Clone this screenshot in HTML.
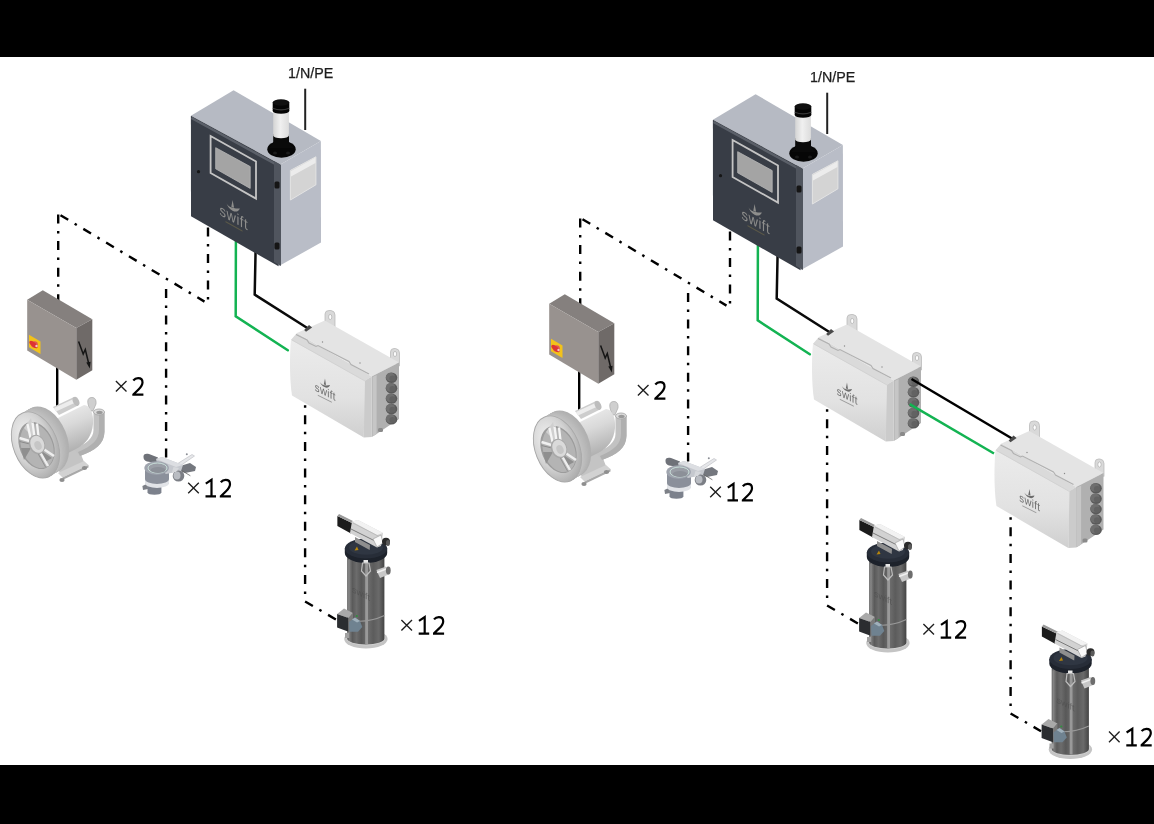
<!DOCTYPE html>
<html><head><meta charset="utf-8">
<style>
html,body{margin:0;padding:0;background:#fff;}
body{width:1154px;height:824px;overflow:hidden;position:relative;}
.bar{position:absolute;left:0;width:1154px;background:#000;}
svg{position:absolute;left:0;top:0;}
text{font-family:"Liberation Sans",sans-serif;}
</style></head>
<body>
<svg style="will-change:transform" width="1154" height="824" viewBox="0 0 1154 824">
<defs>
  <g id="gx"><path d="M0.7,3.7 L11.3,14.3 M11.3,3.7 L0.7,14.3" stroke="#1e1e1e" stroke-width="1.35" fill="none"/></g>
  <g id="g1"><path d="M0.6,4.6 L6.3,0.9 L6.3,17.3 M0.3,17.4 L10.8,17.4" stroke="#000" stroke-width="2.2" fill="none" stroke-linejoin="miter"/></g>
  <g id="g2"><path d="M1.1,3.2 C2.4,1.6 4,0.9 5.9,0.9 C8.7,0.9 10.3,2.6 10.3,5.2 C10.3,7.6 9,9.5 6.3,12.2 L1.2,17.1 L1.2,17.4 L11.2,17.4" stroke="#000" stroke-width="2.2" fill="none"/></g>
  <g id="lbl2"><use href="#gx"/><use href="#g2" x="17"/></g>
  <g id="lbl12"><use href="#gx"/><use href="#g1" x="17.7"/><use href="#g2" x="32.2"/></g>
  <linearGradient id="hopBody" x1="0" x2="1" y1="0" y2="0">
    <stop offset="0" stop-color="#555"/>
    <stop offset="0.06" stop-color="#7a7a7a"/>
    <stop offset="0.14" stop-color="#5a5a5a"/>
    <stop offset="0.25" stop-color="#6c6c6c"/>
    <stop offset="0.38" stop-color="#585858"/>
    <stop offset="0.55" stop-color="#6e6e6e"/>
    <stop offset="0.7" stop-color="#5c5c5c"/>
    <stop offset="0.85" stop-color="#6a6a6a"/>
    <stop offset="1" stop-color="#444"/>
  </linearGradient>
  <linearGradient id="ioFront" x1="0" x2="0" y1="0" y2="1">
    <stop offset="0" stop-color="#ececec"/>
    <stop offset="0.6" stop-color="#e2e2e2"/>
    <stop offset="1" stop-color="#cfcfcf"/>
  </linearGradient>
  <radialGradient id="blowRim" cx="0.4" cy="0.35" r="0.7">
    <stop offset="0" stop-color="#f4f4f4"/>
    <stop offset="0.6" stop-color="#d2d2d2"/>
    <stop offset="1" stop-color="#a8a8a8"/>
  </radialGradient>
  <linearGradient id="blowBody" x1="0" x2="1" y1="0" y2="0.4">
    <stop offset="0" stop-color="#9c9c9c"/>
    <stop offset="0.35" stop-color="#f0f0f0"/>
    <stop offset="1" stop-color="#bdbdbd"/>
  </linearGradient>

  <!-- control cabinet -->
  <g id="cabinet">
    <polygon points="233.6,90.2 190.9,115.7 280.4,164.4 320.9,141.1" fill="#b6bac3"/>
    <polygon points="280.4,164.4 320.9,141.1 321,242.6 278.5,266.3" fill="#b9bdc7"/>
    <polygon points="190.9,115.7 280.4,164.4 278.5,266.3 191,216.2" fill="#383d46"/>
    <polyline points="191.5,118 280,166.5" stroke="#5b6069" stroke-width="2.5" fill="none"/>
    <polygon points="274,161 281,165 281,266 274,262" fill="#50555e"/>
    <!-- screen -->
    <polygon points="210.6,136 256,161.5 256,198.6 210.6,173" fill="none" stroke="#c4c4c4" stroke-width="1.8"/>
    <polygon points="215.7,147.7 250.2,166.6 250.2,188.4 215.7,168.8" fill="#a4a4a4" stroke="#b8b8b8" stroke-width="0.8"/>
    <!-- side window -->
    <polygon points="290.4,170.4 315.9,156.8 315.9,184.8 290.4,200" fill="#d4d4d4" stroke="#e4e4e4" stroke-width="1"/>
    <polygon points="291,171 315.5,157.5 315.5,163 291,176.5" fill="#ececec"/>
    <!-- hinges -->
    <rect x="274.5" y="181.5" width="5" height="7" rx="1.5" fill="#151515"/>
    <rect x="274.5" y="242.5" width="5" height="7" rx="1.5" fill="#151515"/>
    <circle cx="198.5" cy="171.7" r="1.6" fill="#151515"/>
    <!-- logo -->
    <g transform="translate(219.5,214.8) matrix(1,0.55,0,1,0,0)" fill="#8e8e8c">
      <text x="0" y="0" font-size="15.5" letter-spacing="0.6" transform="scale(0.84,1)">swift</text>
      <path d="M6.8,-15.5 C8.5,-13 12.5,-12.8 20.4,-17.5 C19.2,-13.5 16,-11.3 13,-11.3 C10,-11.3 8,-12.8 6.8,-15.5 Z M11.8,-14.5 L13.1,-22 L14.6,-15 Z" fill="#8e8e8c"/>
      <rect x="6" y="3" width="17" height="1.2" fill="#5a5848"/>
    </g>
    <!-- beacon -->
    <linearGradient id="bcnW" x1="0" x2="1" y1="0" y2="0"><stop offset="0" stop-color="#d4d4d4"/><stop offset="0.45" stop-color="#f0f0f0"/><stop offset="1" stop-color="#dcdcdc"/></linearGradient>
    <ellipse cx="281.5" cy="149.3" rx="14.2" ry="8.5" fill="#060606"/>
    <path d="M273.2,134 L289,134 L289,142 Q290.5,145.5 294,148 L269,148 Q272.5,145.5 273.2,142 Z" fill="#0a0a0a"/>
    <rect x="273.2" y="112" width="15.7" height="23.5" fill="url(#bcnW)"/>
    <ellipse cx="281.05" cy="135.5" rx="7.85" ry="2.8" fill="url(#bcnW)"/>
    <rect x="272.7" y="102.5" width="16.6" height="8.5" fill="#050505"/>
    <ellipse cx="281" cy="111" rx="8.3" ry="2.7" fill="#050505"/>
    <ellipse cx="281" cy="102.5" rx="8.3" ry="3.3" fill="#101010"/>
    <path d="M272.8,108.2 Q281,111.5 289.2,108.2" stroke="#3a3a3a" stroke-width="1.1" fill="none"/>
    <ellipse cx="275" cy="153" rx="2" ry="1.5" fill="#1a1a1a"/>
    <ellipse cx="288" cy="153" rx="2" ry="1.5" fill="#1a1a1a"/>
  </g>

  <!-- switch box -->
  <g id="switchbox">
    <polygon points="42.8,290.2 27.2,299.7 76.3,328 92.3,319.3" fill="#85807e"/>
    <polygon points="27.2,299.7 76.3,328 76.3,379.8 27.2,350.6" fill="#98928f"/>
    <polygon points="76.3,328 92.3,319.3 92.3,370.3 76.3,379.8" fill="#6f6a68"/>
    <polygon points="29,334.8 40.5,341.5 40.5,354 29,347.3" fill="#f2c21a"/>
    <circle cx="34.5" cy="344.5" r="3.3" fill="#e25555"/><ellipse cx="33.5" cy="344.5" rx="5" ry="2.2" transform="rotate(40 33.5 344.5)" fill="#dd3333"/>
    <circle cx="36.5" cy="346" r="1.2" fill="#f2c8c8"/>
    <path d="M78.6,341.5 L83.2,354 L85.3,349.5 L88.8,364" stroke="#151515" stroke-width="1.5" fill="none"/><path d="M86.3,362.5 L89.8,368.5 L90.6,361.8 Z" fill="#151515"/>
  </g>

  <!-- blower -->
  <g id="blower">
    <!-- base plate -->
    <polygon points="55,458 78,447 84,462 60,474" fill="#c4c4c4"/>
    <polygon points="58,473 84,461 88.5,465 62.5,477.5" fill="#d2d2d2"/>
    <polygon points="62.5,477.5 88.5,465 88.5,467.5 62.5,480" fill="#a9a9a9"/>
    <ellipse cx="62" cy="480" rx="2.6" ry="2" fill="#8f8f8f"/>
    <ellipse cx="84.5" cy="468" rx="2.6" ry="2" fill="#8f8f8f"/>
    <!-- outlet elbow -->
    <path d="M93.5,412 L104.5,412 L104.5,432 C104,444 96,450 80,456 L74,449 C86,444 93.5,438 93.5,430 Z" fill="#c2c2c2"/>
    <path d="M99,412 L104.5,412 L104.5,432 C104,444 96,450 80,456 L78,452 C92,446 99,440 99,430 Z" fill="#b0b0b0"/>
    <ellipse cx="99" cy="412" rx="5.5" ry="3" fill="#dcdcdc" stroke="#a5a5a5" stroke-width="0.8"/>
    <ellipse cx="99.5" cy="412.5" rx="3.2" ry="1.7" fill="#9a9a9a"/>
    <path d="M88,404 C87,399 89,397.5 92,397.5 C95,397.5 96.5,400 96,404 L93,411 L90,411 Z" fill="#cfcfcf" stroke="#a0a0a0" stroke-width="0.6"/>
    <!-- body cylinder -->
    <linearGradient id="blowBody2" x1="0" x2="0.3" y1="0" y2="1"><stop offset="0" stop-color="#f2f2f2"/><stop offset="0.45" stop-color="#d9d9d9"/><stop offset="1" stop-color="#a9a9a9"/></linearGradient>
    <path d="M50,422 L84,405 C90,405 94,414 93,424 C92,436 86,444 76,449 L54,460 Z" fill="url(#blowBody2)"/>
    <!-- top tube -->
    <path d="M53,407 L73,397.5 C77,396.5 79.5,401 78,405.5 L59,415 Z" fill="#cdcdcd"/>
    <path d="M54,408 L73.5,399 L75.5,402.5 L56,411.5 Z" fill="#ededed"/>
    <ellipse cx="76" cy="401.3" rx="3" ry="4.8" transform="rotate(-25 76 401.3)" fill="#bdbdbd"/>
    <!-- housing rim (back) -->
    <ellipse cx="45.00" cy="439.50" rx="22" ry="34.5" transform="rotate(-22 45.00 439.50)" fill="#b0b0b0"/>
    <ellipse cx="43.64" cy="440.29" rx="22" ry="34.5" transform="rotate(-22 43.64 440.29)" fill="#b2b2b2"/>
    <ellipse cx="42.29" cy="441.07" rx="22" ry="34.5" transform="rotate(-22 42.29 441.07)" fill="#b5b5b5"/>
    <ellipse cx="40.93" cy="441.86" rx="22" ry="34.5" transform="rotate(-22 40.93 441.86)" fill="#b8b8b8"/>
    <ellipse cx="39.57" cy="442.64" rx="22" ry="34.5" transform="rotate(-22 39.57 442.64)" fill="#bbbbbb"/>
    <ellipse cx="38.21" cy="443.43" rx="22" ry="34.5" transform="rotate(-22 38.21 443.43)" fill="#bebebe"/>
    <ellipse cx="36.86" cy="444.21" rx="22" ry="34.5" transform="rotate(-22 36.86 444.21)" fill="#c1c1c1"/>
    <ellipse cx="35.50" cy="445.00" rx="22" ry="34.5" transform="rotate(-22 35.50 445.00)" fill="#c4c4c4"/>
    <!-- front face -->
    <ellipse cx="35.5" cy="445" rx="22" ry="34.5" transform="rotate(-22 35.5 445)" fill="url(#blowRim)"/>
    <ellipse cx="35.5" cy="445" rx="22" ry="34.5" transform="rotate(-22 35.5 445)" fill="none" stroke="#a9a9a9" stroke-width="0.9"/>
    <ellipse cx="36.5" cy="445.5" rx="17" ry="24.5" transform="rotate(-22 36.5 445.5)" fill="#9c9c9c"/>
    <ellipse cx="37" cy="446" rx="15.5" ry="23" transform="rotate(-22 37 446)" fill="#b4b4b4"/>
    <path d="M24,428 L36,440 L31,418 Z" fill="#cfcfcf"/>
    <path d="M45,462 L40,450 L52,458 Z" fill="#8e8e8e"/>
    <path d="M21,448 L31,448 L24,460 Z" fill="#8f8f8f"/>
    <path d="M27.5,424 L30.5,438 M32.5,422.5 L34.5,437 M37,423.5 L38.5,436.5" stroke="#f4f4f4" stroke-width="2.3"/>
    <path d="M19.5,438 L31,441.5" stroke="#f0f0f0" stroke-width="2.6"/>
    <path d="M19.5,441.5 L30,444" stroke="#8a8a8a" stroke-width="1"/>
    <path d="M40,452 L48,466 M43.5,449 L54,456" stroke="#eeeeee" stroke-width="2.5"/>
    <path d="M38,453.5 L45.5,467" stroke="#8c8c8c" stroke-width="0.9"/>
    <ellipse cx="37" cy="444.5" rx="8" ry="10" transform="rotate(-22 37 444.5)" fill="#a8a8a8"/>
    <ellipse cx="37.3" cy="444.3" rx="6.8" ry="8.8" transform="rotate(-22 37.3 444.3)" fill="#dadada"/>
    <ellipse cx="38" cy="445.5" rx="3.5" ry="4.5" transform="rotate(-22 38 445.5)" fill="#c6c6c6"/>
  </g>

  <!-- valve -->
  <g id="valve">
    <!-- lever -->
    <path d="M177,464 L192,454.5 L194.5,456 L180,466 Z" fill="#e6e7ea" stroke="#b8bac0" stroke-width="0.6"/>
    <circle cx="186.8" cy="454.2" r="1" fill="#8a8d94"/>
    <!-- right clamp -->
    <polygon points="180,466 190,463 196,467 195,471 185,473 180,471" fill="#74777e"/>
    <path d="M182,470.7 L190.4,475.8" stroke="#666" stroke-width="0.8"/>
    <!-- top-left stub -->
    <path d="M143.5,457 C143,454 146,453 149,454 L158,457.5 L157,463 L147,461.5 C144.5,461 143.5,459 143.5,457 Z" fill="#6f7279"/>
    <!-- bottom -->
    <polygon points="142.4,486 147.5,483.5 148,489 143,490" fill="#7d8087"/>
    <path d="M147.5,484 L161.4,484 L161.4,492.5 A7,2.5 0 0 1 147.5,492.5 Z" fill="#7c818c"/>
    <!-- body -->
    <path d="M145,469 L169,469 L169,482 A12,5 0 0 1 145,482 Z" fill="#8b909b"/>
    <path d="M145,479 A12,5 0 0 0 169,479 L169,483 A12,5 0 0 1 145,483 Z" fill="#e2e4e8"/>
    <!-- arm -->
    <polygon points="156,459 162,457 183,465 181,471 166,474 158,468" fill="#c5c8ce"/>
    <polygon points="156,459 162,457 183,465 176,467" fill="#dcdee2"/>
    <!-- right cylinder -->
    <ellipse cx="178.5" cy="476" rx="5.8" ry="5.5" fill="#7b7e85"/>
    <ellipse cx="177" cy="475.5" rx="3.5" ry="4" fill="#b9bcc2"/>
    <polygon points="173.5,467 179,468 176,472 172,472" fill="#d6d8dc"/>
    <!-- main ring -->
    <ellipse cx="156.6" cy="468" rx="12.3" ry="6.8" fill="#9fa4ae"/>
    <ellipse cx="157.5" cy="468" rx="9.5" ry="5" fill="#9a9ea6" stroke="#c9ded8" stroke-width="1"/>
    <ellipse cx="158" cy="470" rx="7.5" ry="3" fill="#8c9098"/>
  </g>

  <!-- I/O box -->
  <g id="iobox">
    <!-- tabs -->
    <path d="M325,324 L325,314 Q325,310.5 329,310.5 L331,310.5 Q335,311 335,315 L335,328 Z" fill="#d9d9d9" stroke="#b5b5b5" stroke-width="0.7"/>
    <ellipse cx="330.2" cy="317" rx="1.6" ry="2.6" fill="#fdfdfd" stroke="#9a9a9a" stroke-width="0.5"/>
    <path d="M390.5,359 L390.5,352 Q390.5,348.5 394,348.5 L395.5,348.5 Q399.5,349 399.5,353 L399.5,366 Z" fill="#d9d9d9" stroke="#b5b5b5" stroke-width="0.7"/>
    <ellipse cx="395" cy="354" rx="1.6" ry="2.6" fill="#fdfdfd" stroke="#9a9a9a" stroke-width="0.5"/>
    <!-- top face -->
    <polygon points="297,333 324.8,320.4 399,362.5 371.7,376.4" fill="#e4e4e4"/>
    <!-- side face -->
    <polygon points="371.7,376.4 399,362.5 399,419 375.4,434.7 371.7,437" fill="#b0b0b0"/>
    <polygon points="372.5,377 376.6,375 376.6,434 372.5,436.5" fill="#c6c6c6"/>
    <!-- lid side strip -->
    <polygon points="363.8,381 371.7,376.4 371.7,437 363.8,437.5" fill="#cbcbcb"/>
    <!-- lid front -->
    <path d="M291,339.8 L296,336.5 L365,381 L363.8,437.5 L292,395.5 C289.5,380 289.5,355 291,339.8 Z" fill="url(#ioFront)"/>
    <polygon points="291,339.8 297,333 371.7,376.4 365,381" fill="#dadada"/>
    <!-- hinge strip -->
    <path d="M296,334.5 L307,340 L309,343 L316,346.5 L318,345.5 L349,361.5 L351,364.5 L369,374" stroke="#b0b0b0" stroke-width="1.1" fill="none"/>
    <path d="M292,340 L365,381" stroke="#d2d2d2" stroke-width="1"/>
    <circle cx="322.5" cy="342" r="0.7" fill="#888"/>
    <circle cx="360" cy="363" r="0.7" fill="#888"/>
    <!-- glands -->
    <ellipse cx="391.5" cy="377.8" rx="5.8" ry="5.2" fill="#5a5a5a"/><ellipse cx="390.5" cy="377.0" rx="4.6" ry="4.3" fill="#6f6f6f"/><ellipse cx="392.6" cy="378.5" rx="3.2" ry="3" fill="#626262"/>
    <ellipse cx="391.5" cy="388.2" rx="5.8" ry="5.2" fill="#5a5a5a"/><ellipse cx="390.5" cy="387.4" rx="4.6" ry="4.3" fill="#6f6f6f"/><ellipse cx="392.6" cy="388.9" rx="3.2" ry="3" fill="#626262"/>
    <ellipse cx="391.5" cy="398.6" rx="5.8" ry="5.2" fill="#5a5a5a"/><ellipse cx="390.5" cy="397.8" rx="4.6" ry="4.3" fill="#6f6f6f"/><ellipse cx="392.6" cy="399.3" rx="3.2" ry="3" fill="#626262"/>
    <ellipse cx="391.5" cy="409.0" rx="5.8" ry="5.2" fill="#5a5a5a"/><ellipse cx="390.5" cy="408.2" rx="4.6" ry="4.3" fill="#6f6f6f"/><ellipse cx="392.6" cy="409.7" rx="3.2" ry="3" fill="#626262"/>
    <ellipse cx="391.5" cy="419.4" rx="5.8" ry="5.2" fill="#5a5a5a"/><ellipse cx="390.5" cy="418.6" rx="4.6" ry="4.3" fill="#6f6f6f"/><ellipse cx="392.6" cy="420.1" rx="3.2" ry="3" fill="#626262"/>
    <rect x="378" y="428" width="5" height="4" rx="1.5" fill="#8a8a8a"/>
    <!-- top gland for cable -->
    <path d="M304.2,330 L309,325 L312.1,327.5 L306,331.7 Z" fill="#4a4a4a"/>
    <!-- logo -->
    <g transform="translate(314.8,390.5) matrix(1,0.5,0,1,0,0)" fill="#6c6c6c">
      <text x="0" y="0" font-size="11.5" letter-spacing="0.4" transform="scale(0.84,1)">swift</text>
      <path d="M5,-11 C6.3,-9.2 9.5,-9 15.2,-13 C14.3,-10 12,-8.3 9.8,-8.3 C7.5,-8.3 6,-9.3 5,-11 Z M9,-10.5 L10.2,-17 L11.2,-11 Z"/>
      <rect x="3" y="2.8" width="14" height="0.9" opacity="0.6"/>
    </g>
  </g>

  <!-- hopper -->
  <g id="hopper">
    <ellipse cx="365.9" cy="639" rx="21.7" ry="9.5" fill="#c4c4c4"/>
    <ellipse cx="365.9" cy="638" rx="19.5" ry="7.5" fill="#d0d0d0"/>
    <path d="M347.2,556 L384.4,556 L384.4,638.5 A18.6,6 0 0 1 347.2,638.5 Z" fill="url(#hopBody)"/>
    <rect x="347.8" y="560" width="1.8" height="78" fill="#8a8a8a" opacity="0.7"/>
    <path d="M348,620 Q366,624 384.4,615.5" stroke="#9a9a9a" stroke-width="1.1" fill="none"/>
    <rect x="365.2" y="560" width="2.8" height="84" fill="#999"/>
    <!-- logo on body -->
    <g fill="#4a4a4a" transform="translate(352,592) matrix(1,0.5,0,1,0,0)">
      <text x="0" y="0" font-size="9" opacity="0.6">swift</text>
    </g>
    <!-- lid -->
    <path d="M344.8,548.5 L344.8,553 A21.2,10 0 0 0 387.2,553 L387.2,548.5 Z" fill="#1d222b"/>
    <ellipse cx="366" cy="548.5" rx="21.2" ry="10" fill="#272d38"/>
    <ellipse cx="366" cy="547.5" rx="17" ry="7.3" fill="#2f3642"/>
    <path d="M354.5,550.5 L357,546.5 L358.5,550 Z" fill="#b8860b"/>
    <!-- latch -->
    <rect x="363.5" y="560" width="4.5" height="3" fill="#e8e8e8"/>
    <path d="M362.5,563 L369,563 L370.5,571 L366,576 L361.5,571 Z" fill="none" stroke="#bdbdbd" stroke-width="1.2"/>
    <!-- port -->
    <polygon points="376.4,570 386,566.5 390,574 380,578" fill="#c8c8c8"/>
    <path d="M377,572.5 L387.5,568.5" stroke="#f0f0f0" stroke-width="1.5"/>
    <ellipse cx="388.3" cy="570.5" rx="2.4" ry="4" fill="#6d6d6d"/>
    <!-- ejector -->
    <polygon points="337.4,516 353,523.5 351,533.5 337.4,526" fill="#1c1c1c"/>
    <polygon points="339,514 354,521.5 353,523.5 337.4,516" fill="#9a9a9a"/>
    <polygon points="355,537 370,545 369.7,550 355,542" fill="#8e8e8e"/>
    <polygon points="352,521.5 358,520 383,533 381,546 377,547.5 350,533" fill="#d2d2d2"/>
    <polygon points="352,521.5 358,520 383,533 377,535" fill="#f2f2f2"/>
    <path d="M351,529 L378,542.5" stroke="#7a7a7a" stroke-width="1"/>
    <path d="M353,523 L380,537" stroke="#b5b5b5" stroke-width="0.8"/>
    <polygon points="373,539 381,535 383,543 377,547" fill="#fafafa" stroke="#9a9a9a" stroke-width="0.6"/>
    <ellipse cx="386" cy="541.5" rx="4" ry="3.8" fill="#2a2a2a"/>
    <ellipse cx="388" cy="543" rx="2" ry="3" fill="#5a5a5a"/>
    <!-- proximity sensor -->
    <polygon points="337.1,614 344,608.5 353,613 348.5,618" fill="#a9a9a9"/>
    <polygon points="337.1,614 348.5,618 348.5,631.8 337.1,627.5" fill="#2b2d30"/>
    <polygon points="348.5,618 353,613 353,628 348.5,631.8" fill="#7a7a7a"/>
    <polygon points="349,622 355,617.5 360,621 362.3,627 358,631.8 349.5,631.8" fill="#6f8290"/>
    <polygon points="355,617.5 360,621 357,622.5 352,619.5" fill="#9fb0bb"/>
    <circle cx="356.8" cy="616" r="1.1" fill="#2f8f3f"/>
    <rect x="345" y="633" width="4" height="5" fill="#a0a0a0"/>
  </g>

  <!-- lines + labels -->
  <g id="lines">
    <g stroke="#000" stroke-width="2.4" fill="none" stroke-dasharray="9 7.5 2.5 7.6">
      <path d="M58.2,214.5 L58.2,303"/>
      <path d="M60.5,215.2 L204.5,301.6"/>
      <path d="M208,227.4 L208,300"/>
      <path d="M166.1,289 L166.1,459"/>
      <path d="M305.1,388.75 L305.1,596"/>
      <path d="M305.1,601.5 L336.5,619.8"/>
    </g>
    <path d="M235.9,241.5 L235.7,316.4 L287.8,350.3" stroke="#13b352" stroke-width="2.5" fill="none" stroke-linecap="round"/>
    <path d="M255.6,250 L254.7,294.6 L307.3,328" stroke="#0a0a0a" stroke-width="2.5" fill="none"/>
    <line x1="57.2" y1="366.6" x2="57.2" y2="408" stroke="#000" stroke-width="2.4"/>
    <line x1="305.2" y1="88.7" x2="305.2" y2="130" stroke="#222" stroke-width="2"/>
    <text x="288" y="77.7" font-size="14.3" fill="#1e1e1e" stroke="#1e1e1e" stroke-width="0.25" textLength="45.2" lengthAdjust="spacingAndGlyphs">1/N/PE</text>
    <use href="#lbl2" transform="translate(115.2,377.3)"/>
    <use href="#lbl12" transform="translate(187.5,479)"/>
    <use href="#lbl12" transform="translate(400.7,616.2)"/>
  </g>

</defs>

<!-- left -->
<g>
  <use href="#lines"/>
  <use href="#cabinet"/>
  <use href="#switchbox"/>
  <use href="#blower"/>
  <use href="#valve"/>
  <use href="#iobox"/>
  <use href="#hopper"/>
</g>
<!-- right -->
<g transform="translate(522,4)">
  <use href="#lines"/>
  <use href="#cabinet"/>
  <use href="#switchbox"/>
  <use href="#blower"/>
  <use href="#valve"/>
  <use href="#iobox"/>
  <use href="#hopper"/>
</g>
<!-- wires between I/O boxes -->
<path d="M911.5,379 L1012,438.5" stroke="#000" stroke-width="2.5" fill="none"/>
<path d="M909.7,404.2 L994,453.5" stroke="#13b352" stroke-width="2.5" fill="none"/>
<g transform="translate(704.5,110.5)">
  <g stroke="#000" stroke-width="2.4" fill="none" stroke-dasharray="9 7.5 2.5 7.6" transform="translate(1,1.5)"><path d="M305.1,388.75 L305.1,596"/><path d="M305.1,601.5 L335.5,619.2"/></g>
  <use href="#iobox"/>
  <use href="#hopper"/>
</g>
<use href="#lbl12" transform="translate(1108.3,727.9)"/>
</svg>
<div class="bar" style="top:0;height:57px"></div>
<div class="bar" style="top:765px;height:59px"></div>
</body></html>
